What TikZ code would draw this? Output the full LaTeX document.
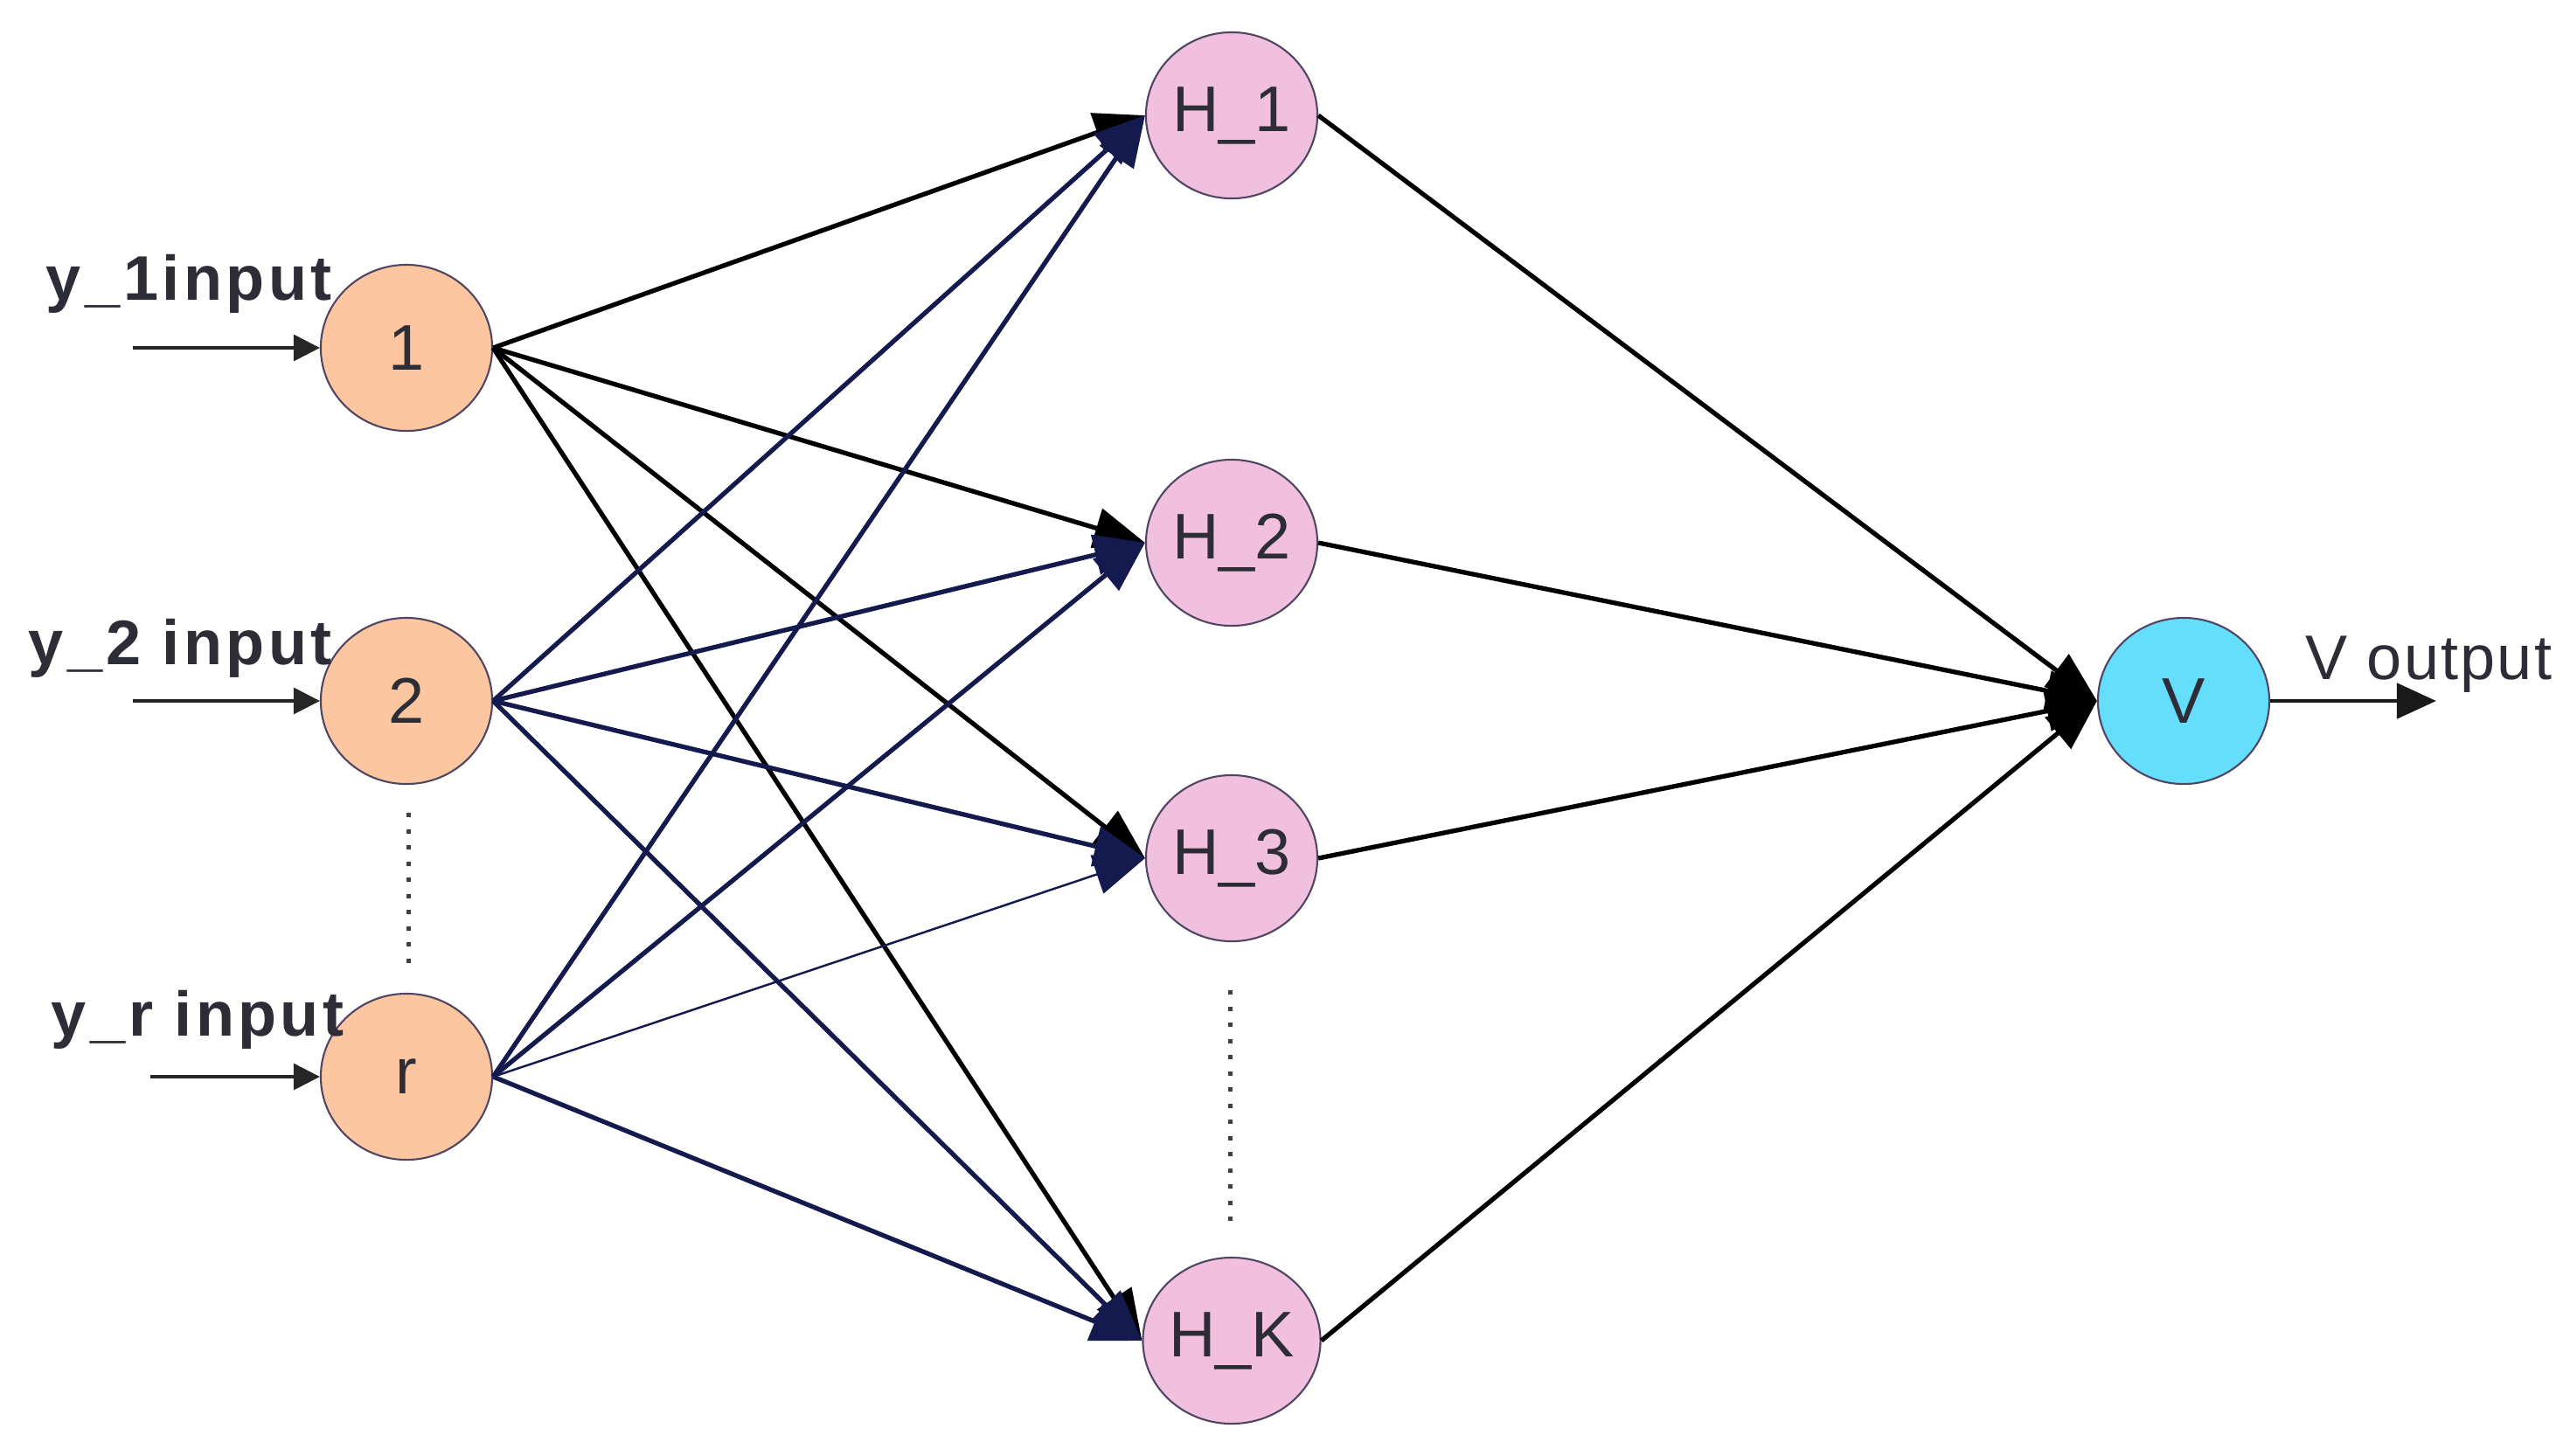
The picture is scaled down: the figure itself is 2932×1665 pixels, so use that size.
\documentclass[tikz,border=0pt]{standalone}
\usepackage{fontspec}
\setmainfont{Liberation Sans}
\usetikzlibrary{arrows.meta,shapes.geometric}
\definecolor{navy}{RGB}{20,26,78}
\definecolor{peach}{RGB}{252,199,160}
\definecolor{pinkish}{RGB}{240,192,222}
\definecolor{cyanish}{RGB}{100,222,250}
\definecolor{nodeborder}{RGB}{80,70,100}
\definecolor{txt}{RGB}{45,45,55}
\begin{document}
\begin{tikzpicture}[x=0.01cm,y=-0.01cm,
  neuron/.style={ellipse,draw=nodeborder,line width=0.6pt,minimum width=1.96cm,minimum height=1.9cm,inner sep=0pt,font=\fontsize{21pt}{24pt}\selectfont,text=txt},
  inp/.style={neuron,fill=peach},
  hid/.style={neuron,fill=pinkish},
  outn/.style={neuron,fill=cyanish},
  bigtip/.style={-{Triangle[length=0.58cm,width=0.46cm]}},
  blk/.style={line width=1.5pt,black,bigtip},
  nav/.style={line width=1.5pt,navy,bigtip},
  navthin/.style={line width=0.7pt,navy,bigtip},
  inarrow/.style={line width=0.9pt,black!85,-{Triangle[length=0.3cm,width=0.3cm]}},
  outarrow/.style={line width=1.4pt,black!90,-{Triangle[length=0.45cm,width=0.4cm]}},
  inlabel/.style={anchor=base west,inner sep=0pt,text=txt,font=\fontsize{20.5pt}{24pt}\selectfont\bfseries\addfontfeature{LetterSpace=6}},
  outlabel/.style={anchor=base west,inner sep=0pt,text=txt,font=\fontsize{20.5pt}{24pt}\selectfont\addfontfeature{LetterSpace=3}},
  dots/.style={line width=0.05cm,black!75,dash pattern=on 0.05cm off 0.135cm}
]
\useasboundingbox (0,0) rectangle (2932,1665);

% nodes
\node[inp] (n1) at (465,398) {1};
\node[inp] (n2) at (465,802) {2};
\node[inp] (nr) at (465,1232) {r};
\node[hid] (h1) at (1409,132) {H\_1};
\node[hid] (h2) at (1409,621) {H\_2};
\node[hid] (h3) at (1409,982) {H\_3};
\node[hid] (hk) at (1409,1534) {H\_K};
\node[outn] (v) at (2498,802) {V};

% labels
\node[inlabel] (l1) at (52,343) {y\_1input};
\node[inlabel] (l2) at (32,760) {y\_2 input};
\node[inlabel] (lr) at (58,1185) {y\_r input};
\node[outlabel] (lo) at (2637,777) {V output};

% free ends
\coordinate (i1) at (152,398);
\coordinate (i2) at (152,802);
\coordinate (ir) at (172,1232);
\coordinate (o) at (2787,802);
\coordinate (d1a) at (467,930);
\coordinate (d1b) at (467,1108);
\coordinate (d2a) at (1407,1133);
\coordinate (d2b) at (1407,1402);

% dotted ellipses
\draw[dots] (d1a) -- (d1b);
\draw[dots] (d2a) -- (d2b);

% input arrows
\draw[inarrow] (i1) -- (n1.west);
\draw[inarrow] (i2) -- (n2.west);
\draw[inarrow] (ir) -- (nr.west);

% hidden to output
\draw[blk] (h1.east) -- (v.west);
\draw[blk] (h2.east) -- (v.west);
\draw[blk] (h3.east) -- (v.west);
\draw[blk] (hk.east) -- (v.west);

% input to hidden
\draw[blk] (n1.east) -- (h1.west);
\draw[blk] (n1.east) -- (h2.west);
\draw[blk] (n1.east) -- (h3.west);
\draw[blk] (n1.east) -- (hk.west);
\draw[nav] (n2.east) -- (h1.west);
\draw[nav] (n2.east) -- (h2.west);
\draw[nav] (n2.east) -- (h3.west);
\draw[nav] (n2.east) -- (hk.west);
\draw[nav] (nr.east) -- (h1.west);
\draw[nav] (nr.east) -- (h2.west);
\draw[navthin] (nr.east) -- (h3.west);
\draw[nav] (nr.east) -- (hk.west);

% output arrow
\draw[outarrow] (v.east) -- (o);
\end{tikzpicture}
\end{document}
